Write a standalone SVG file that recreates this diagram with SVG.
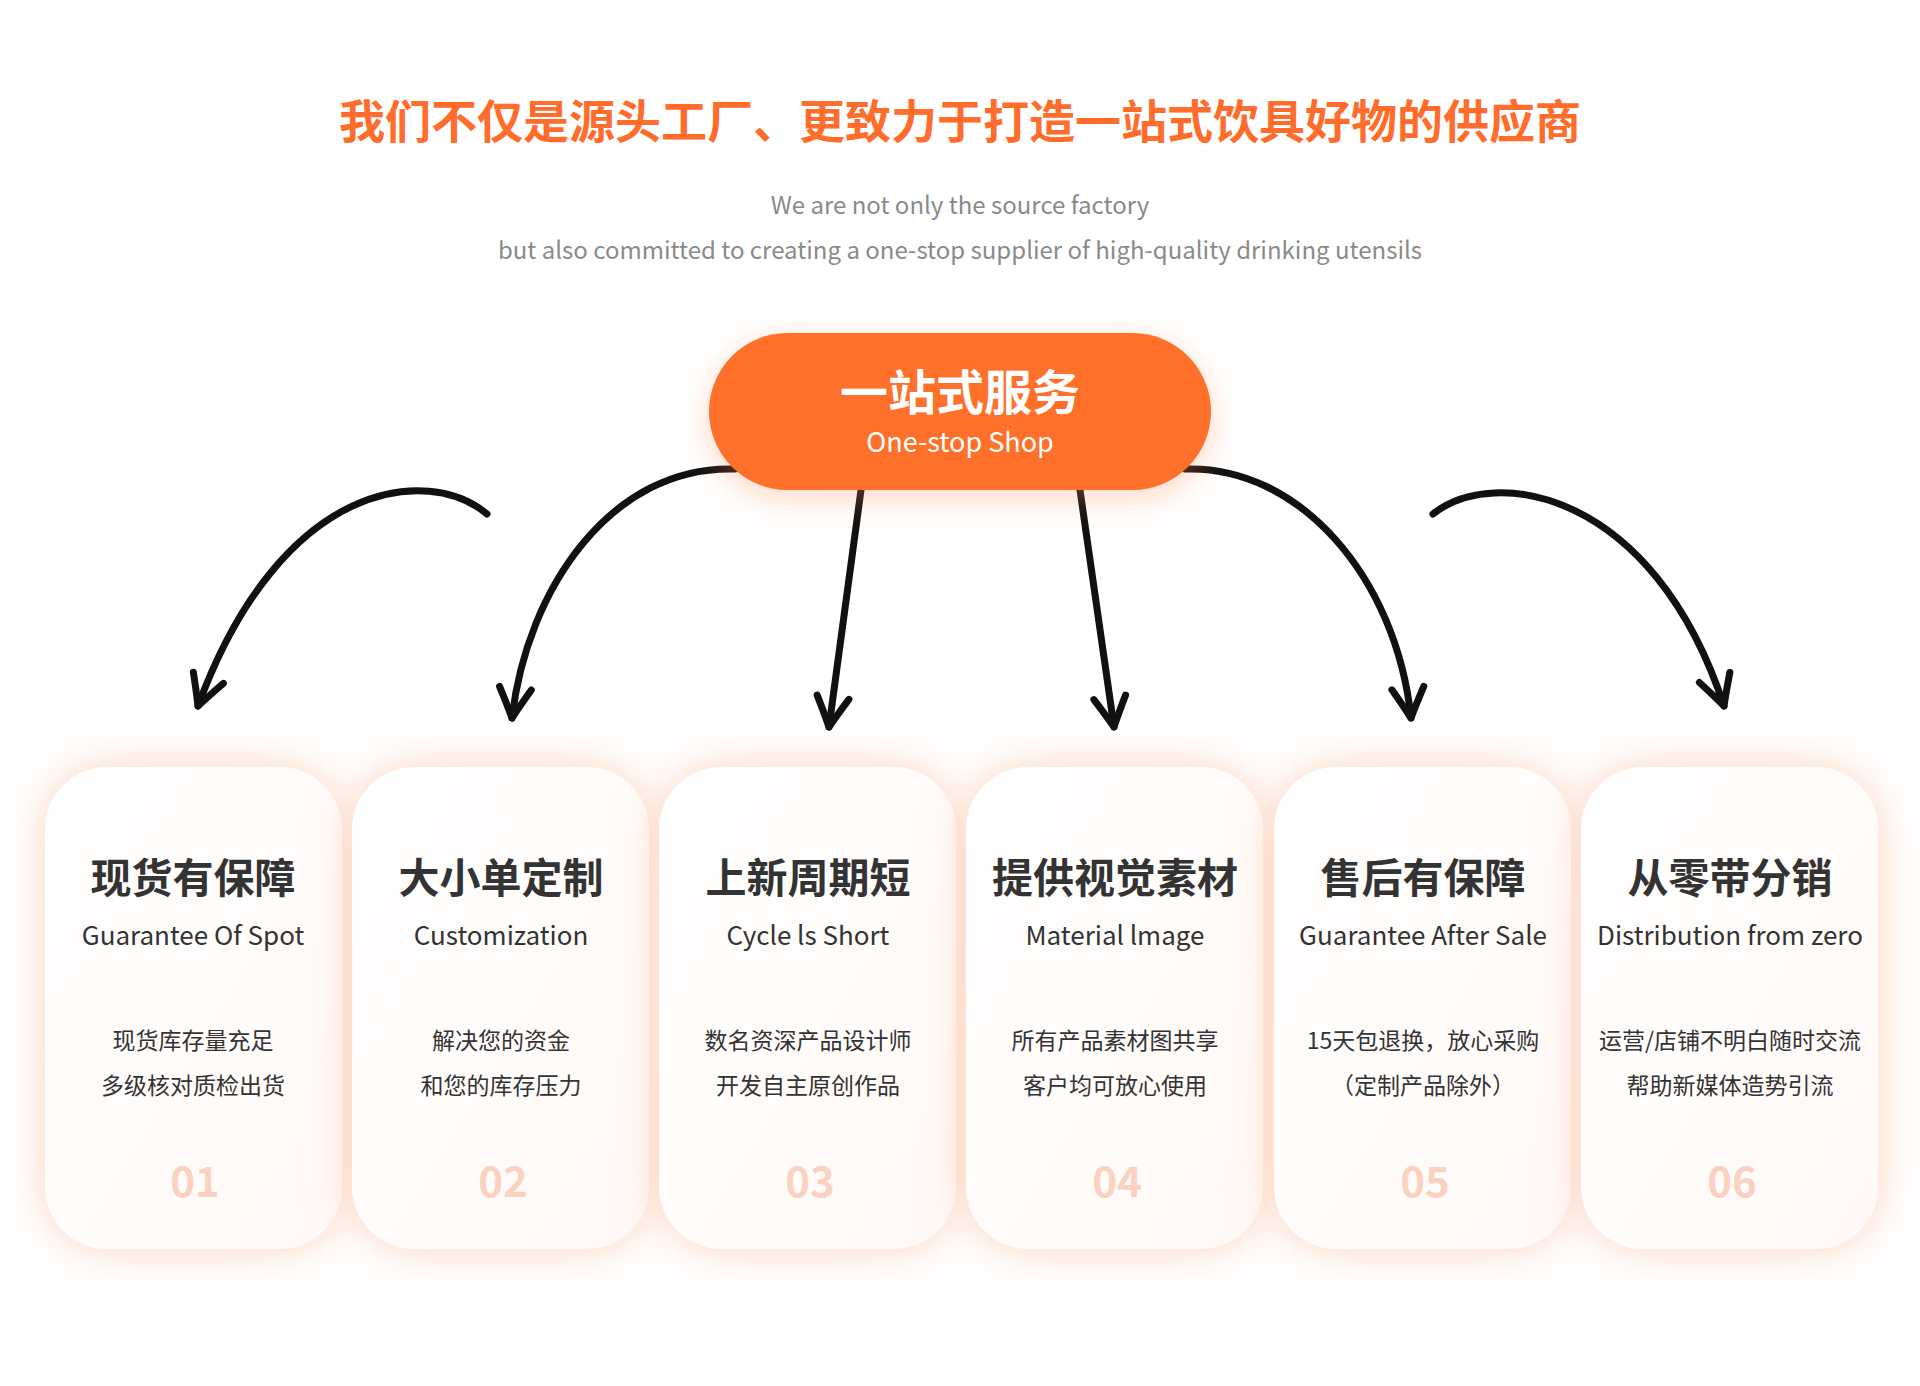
<svg xmlns="http://www.w3.org/2000/svg" width="1920" height="1386" viewBox="0 0 1920 1386">
<style>
.f{font-family:"Noto Sans CJK SC","Noto Sans",sans-serif;text-anchor:middle}
.t{font-size:41px;font-weight:700;fill:#333}
.e{font-size:26px;fill:#333}
.d{font-size:23px;fill:#333}
.n{font-size:42px;font-weight:700;fill:#FBD2C1}
.card{fill:url(#cg);filter:url(#sh)}
.arr{fill:none;stroke:#111;stroke-width:7;stroke-linecap:round;marker-end:url(#ah)}
</style>
<defs>
<linearGradient id="cg" x1="0" y1="0" x2="1" y2="1"><stop offset="0" stop-color="#FFFFFF"/><stop offset="1" stop-color="#FFF9F6"/></linearGradient>
<filter id="sh" x="-40%" y="-30%" width="180%" height="160%"><feDropShadow dx="0" dy="0" stdDeviation="22" flood-color="#FBC6AA" flood-opacity="0.75"/></filter>
<filter id="ps" x="-30%" y="-40%" width="160%" height="180%"><feDropShadow dx="0" dy="8" stdDeviation="16" flood-color="#FF8A50" flood-opacity="0.35"/></filter>
<marker id="ah" markerUnits="userSpaceOnUse" markerWidth="60" markerHeight="60" refX="0" refY="0" viewBox="-40 -30 50 60" orient="auto">
<path d="M-30,-16 Q-12,-6 0,0 Q-12,6 -30,16" fill="none" stroke="#111" stroke-width="7" stroke-linecap="round" stroke-linejoin="round"/>
</marker>
</defs>
<rect width="1920" height="1386" fill="#fff"/>
<text class="f" x="960" y="138" font-size="46" font-weight="700" fill="#FF6C2C">我们不仅是源头工厂、更致力于打造一站式饮具好物的供应商</text>
<text class="f" x="960" y="214" font-size="24" fill="#8a8a8a">We are not only the source factory</text>
<text class="f" x="960" y="259" font-size="24" fill="#8a8a8a">but also committed to creating a one-stop supplier of high-quality drinking utensils</text>
<g id="connectors">
<path class="arr" d="M487,514 C429,465 282,478 198,706"/>
<path class="arr" d="M735,469 C612,465 527,588 512,718"/>
<path class="arr" d="M861,490 L829,727"/>
<path class="arr" d="M1080,490 L1114,727"/>
<path class="arr" d="M1185,469 C1298,465 1396,576 1411,718"/>
<path class="arr" d="M1433,514 C1494,465 1653,490 1724,706"/>
</g>
<g id="hub">
<rect x="709" y="333" width="502" height="157" rx="78.5" fill="#FF7029" filter="url(#ps)"/>
<text class="f" x="960" y="410" font-size="48" font-weight="700" fill="#fff">一站式服务</text>
<text class="f" x="960" y="452" font-size="27" fill="#fff">One-stop Shop</text>
</g>
<g id="card1"><rect class="card" x="45" y="767" width="297" height="482" rx="62"/>
<text class="f t" x="193" y="893">现货有保障</text><text class="f e" x="193" y="945">Guarantee Of Spot</text>
<text class="f d" x="193" y="1049">现货库存量充足</text><text class="f d" x="193" y="1094">多级核对质检出货</text>
<text class="f n" x="195" y="1197">01</text></g>
<g id="card2"><rect class="card" x="352" y="767" width="297" height="482" rx="62"/>
<text class="f t" x="501" y="893">大小单定制</text><text class="f e" x="501" y="945">Customization</text>
<text class="f d" x="501" y="1049">解决您的资金</text><text class="f d" x="501" y="1094">和您的库存压力</text>
<text class="f n" x="503" y="1197">02</text></g>
<g id="card3"><rect class="card" x="659" y="767" width="297" height="482" rx="62"/>
<text class="f t" x="808" y="893">上新周期短</text><text class="f e" x="808" y="945">Cycle ls Short</text>
<text class="f d" x="808" y="1049">数名资深产品设计师</text><text class="f d" x="808" y="1094">开发自主原创作品</text>
<text class="f n" x="810" y="1197">03</text></g>
<g id="card4"><rect class="card" x="966" y="767" width="297" height="482" rx="62"/>
<text class="f t" x="1115" y="893">提供视觉素材</text><text class="f e" x="1115" y="945">Material lmage</text>
<text class="f d" x="1115" y="1049">所有产品素材图共享</text><text class="f d" x="1115" y="1094">客户均可放心使用</text>
<text class="f n" x="1117" y="1197">04</text></g>
<g id="card5"><rect class="card" x="1274" y="767" width="297" height="482" rx="62"/>
<text class="f t" x="1423" y="893">售后有保障</text><text class="f e" x="1423" y="945">Guarantee After Sale</text>
<text class="f d" x="1423" y="1049">15天包退换，放心采购</text><text class="f d" x="1423" y="1094">（定制产品除外）</text>
<text class="f n" x="1425" y="1197">05</text></g>
<g id="card6"><rect class="card" x="1581" y="767" width="297" height="482" rx="62"/>
<text class="f t" x="1730" y="893">从零带分销</text><text class="f e" x="1730" y="945">Distribution from zero</text>
<text class="f d" x="1730" y="1049">运营/店铺不明白随时交流</text><text class="f d" x="1730" y="1094">帮助新媒体造势引流</text>
<text class="f n" x="1732" y="1197">06</text></g>
</svg>
